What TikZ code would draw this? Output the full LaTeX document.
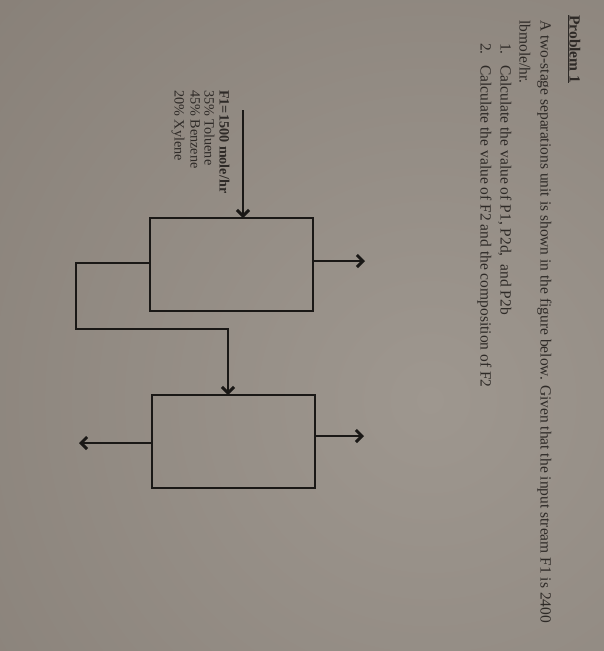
\documentclass[tikz,border=0pt]{standalone}
\usepackage{fontspec}
\setmainfont{Liberation Serif}
\usetikzlibrary{arrows.meta}
\definecolor{paperdark}{HTML}{7F776F}
\definecolor{paperlight}{HTML}{9E978F}
\definecolor{ink}{HTML}{1A1816}
\definecolor{print}{HTML}{2E2A27}
\tikzset{
  unit/.style={draw=ink, line width=2.9pt, minimum width=163pt, minimum height=93pt, inner sep=0pt, outer sep=0pt},
  pipe/.style={draw=ink, line width=2.9pt, line join=miter},
  flow/.style={pipe, -{Straight Barb[length=6pt,width=12pt]}},
  txt/.style={rotate=-90, anchor=mid west, inner sep=0pt, text=print, font=\fontsize{15.5}{18}\selectfont},
  feedtxt/.style={txt, font=\fontsize{14.2}{16}\selectfont}
}

\begin{document}
\begin{tikzpicture}[x=1pt,y=-1pt]

    % paper
    \useasboundingbox (0,0) rectangle (604,651);
    \fill[paperdark] (0,0) rectangle (604,651);
    \begin{scope}
        \clip (0,0) rectangle (604,651);
        \shade[inner color=paperlight, outer color=paperdark] (430,400) circle (850);
    \end{scope}

    % problem text
    \node [txt, font=\fontsize{15.5}{18}\selectfont\bfseries] (title) at (572,15) {\underline{Problem 1}};
    \node [txt] (line1) at (543,20) {A two-stage separations unit is shown in the figure below. Given that the input stream F1 is 2400};
    \node [txt] (line2) at (522,20) {lbmole/hr.};
    \node [txt] (n1) at (503,43) {1.};
    \node [txt] (q1) at (503,65) {Calculate the value of P1, P2d,\ \ and P2b};
    \node [txt] (n2) at (483,43) {2.};
    \node [txt] (q2) at (483,65) {Calculate the value of F2 and the composition of F2};

    % feed
    \node [feedtxt, font=\fontsize{14.2}{16}\selectfont\bfseries] (f1) at (222,90) {F1=1500 mole/hr};
    \node [feedtxt] (tol) at (207,90) {35\% Toluene};
    \node [feedtxt] (ben) at (193,90) {45\% Benzene};
    \node [feedtxt] (xyl) at (177,90) {20\% Xylene};

    % units
    \node [unit] (stage1) at (231.5,264.5) {};
    \node [unit] (stage2) at (233.5,441.5) {};

    \coordinate (feed) at (243,110);
    \coordinate (p1) at (365,261);
    \coordinate (c1) at (76,263);
    \coordinate (c2) at (76,329);
    \coordinate (c3) at (228,329);
    \coordinate (p2d) at (364,436);
    \coordinate (p2b) at (79,443);

    % edges
    \draw [flow] (feed) to (feed |- stage1.north);
    \draw [flow] (stage1.east |- p1) to (p1);
    \draw [flow] (stage1.west |- c1) -- (c1) -- (c2) -- (c3) -- (c3 |- stage2.north);
    \draw [flow] (stage2.east |- p2d) to (p2d);
    \draw [flow] (stage2.west |- p2b) to (p2b);
\end{tikzpicture}
\end{document}
